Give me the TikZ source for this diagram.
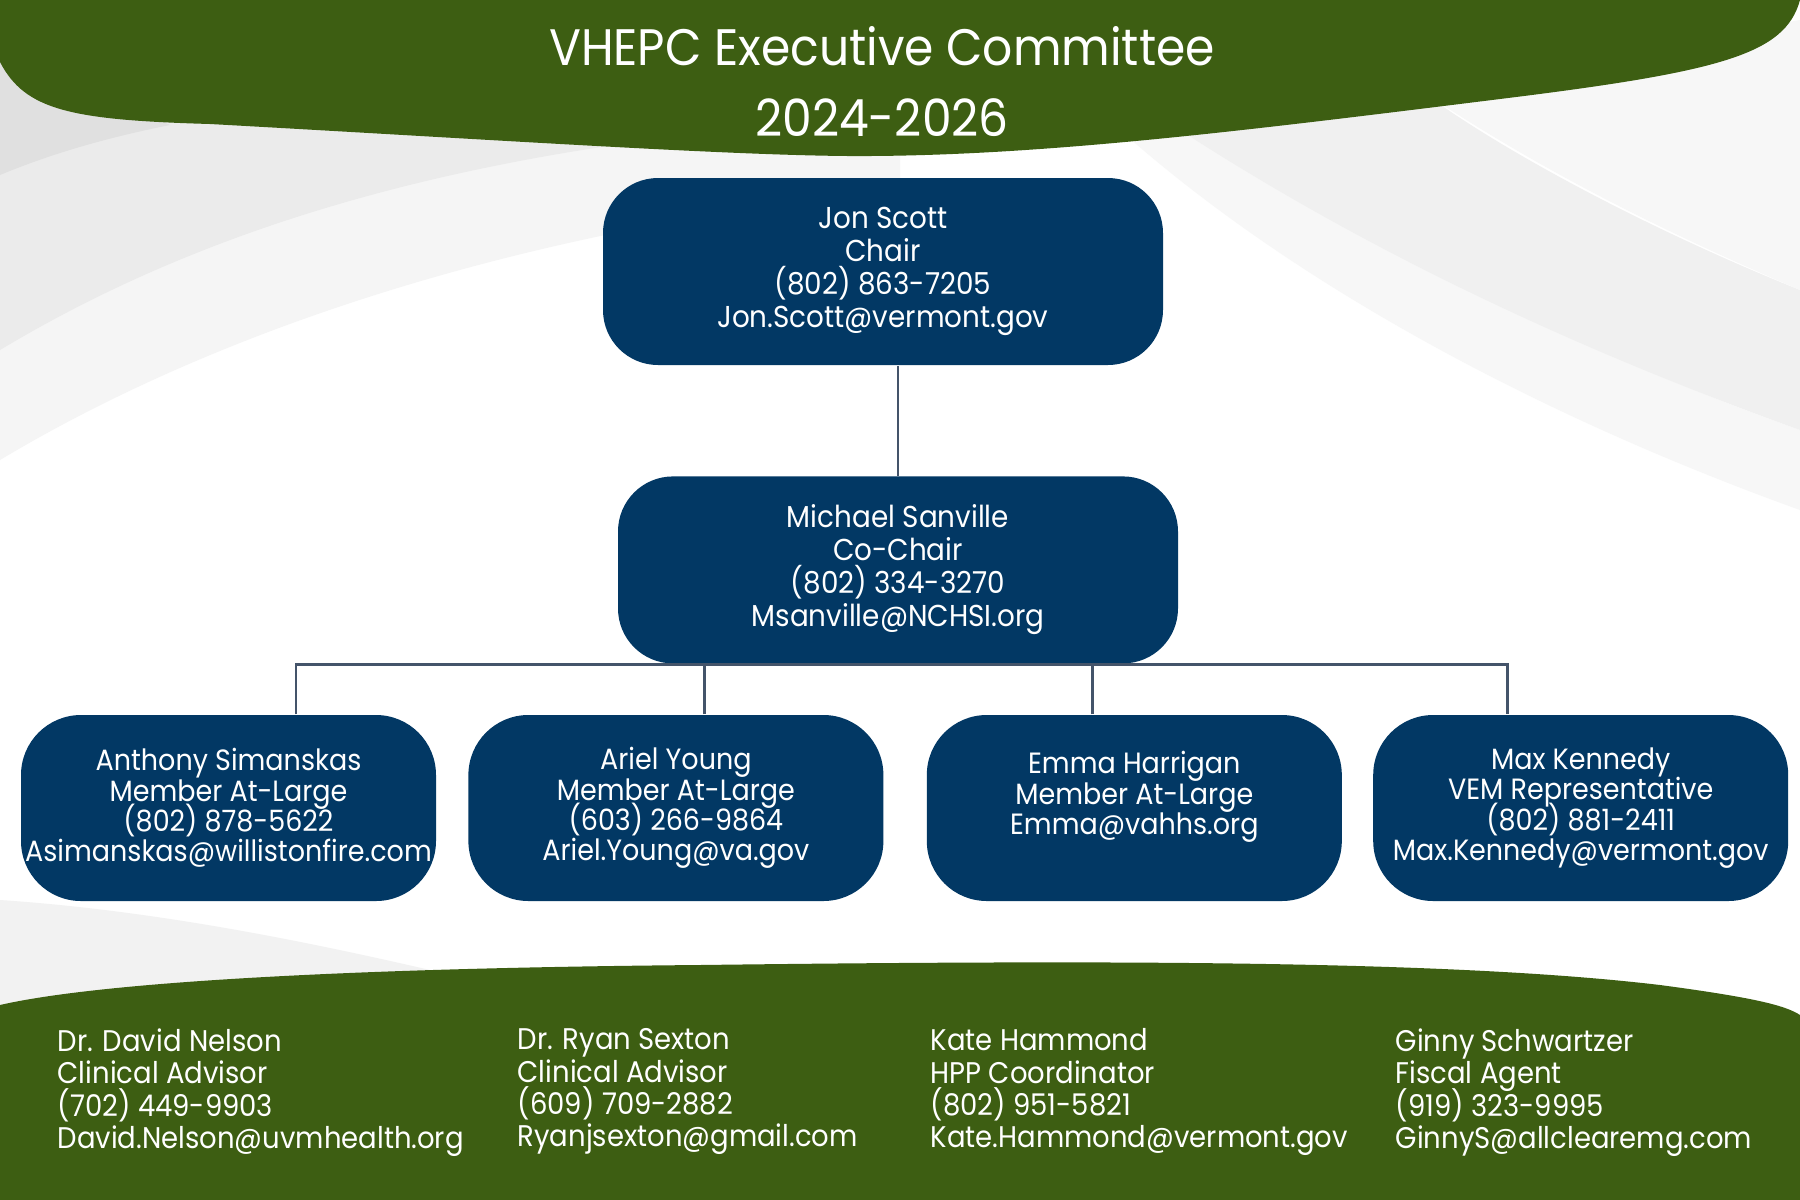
\documentclass[tikz,border=0pt]{standalone}
\usepackage{xcolor}
\usepackage{fontspec}
\setmainfont{Poppins}[FakeStretch=0.92]
\usepackage{tikz}
\usetikzlibrary{positioning}

\definecolor{vhgreen}{RGB}{61,94,18}
\definecolor{vhnavy}{RGB}{2,56,100}
\definecolor{vhline}{RGB}{68,84,106}
\setlength{\lineskiplimit}{-20pt}

\begin{document}
\begin{tikzpicture}[
  font=\fontsize{8.6}{9.4}\selectfont,
  card/.style={fill=vhnavy, text=white, rounded corners=5.5mm,
    minimum width=5.6cm, minimum height=1.87cm, align=center, inner sep=0pt},
  member/.style={card, rounded corners=6mm, minimum width=4.15cm,
    minimum height=1.86cm, font=\fontsize{8.35}{8.6}\selectfont},
  link/.style={draw=vhline, line width=0.8pt},
  contact/.style={text=white, align=left, anchor=north west, inner sep=0pt,
    font=\fontsize{8.5}{9.2}\selectfont},
  swoosh/.style={fill=black!#1},
]
  \useasboundingbox (0,0) rectangle (18,-12);
  \fill[white] (0,0) rectangle (18,-12);

  % soft grey background swooshes
  \fill[swoosh=4] (0,-0.5) -- (0,-4.6) .. controls (2,-3.4) and (5,-2.3) .. (9,-1.9) -- (9,-1.2) -- cycle;
  \fill[swoosh=8] (0,-0.5) -- (0,-3.5) .. controls (1.5,-2.6) and (3.5,-1.8) .. (6.5,-1.4) -- cycle;
  \fill[swoosh=12] (0,-0.5) -- (0,-1.75) .. controls (0.6,-1.5) and (1.2,-1.35) .. (1.7,-1.25) -- cycle;
  \fill[swoosh=3] (11.2,-1.3) .. controls (13,-2.9) and (15.5,-4.2) .. (18,-5.1)
    -- (18,-4.3) .. controls (16,-3.6) and (14,-2.6) .. (12.4,-1.3) -- cycle;
  \fill[swoosh=6] (11.8,-1.3) .. controls (13.5,-2.4) and (15.5,-3.4) .. (18,-4.3)
    -- (18,-2.9) .. controls (16.5,-2.3) and (15,-1.5) .. (14.2,-0.9) -- cycle;
  \fill[swoosh=3] (14.2,-0.9) .. controls (15.4,-1.7) and (16.6,-2.3) .. (18,-2.9)
    -- (18,-0.2) -- cycle;
  \fill[swoosh=5] (0,-9.0) .. controls (1.5,-9.1) and (3,-9.4) .. (4.3,-9.7) -- (0,-10.1) -- cycle;

  % banners
  \fill[vhgreen] (0,0) -- (0,-0.62) .. controls (0.25,-1.1) and (0.7,-1.2) .. (2.1,-1.24)
    .. controls (5,-1.4) and (7.5,-1.57) .. (8.7,-1.56)
    .. controls (10.5,-1.55) and (12.5,-1.3) .. (14.92,-1.0)
    .. controls (17.2,-0.72) and (17.85,-0.55) .. (18,0) -- cycle;
  \fill[vhgreen] (0,-12) -- (0,-10.05) .. controls (1,-9.82) and (3.5,-9.68) .. (7,-9.65)
    .. controls (11,-9.6) and (14.5,-9.6) .. (16.6,-9.85)
    .. controls (17.5,-9.97) and (17.85,-10.05) .. (18,-10.15) -- (18,-12) -- cycle;

  \node[text=white, align=center, font=\fontsize{14.6}{20.2}\selectfont] (title) at (8.82,-0.82)
    {VHEPC Executive Committee\\2024-2026};

  % committee
  \node[card] (chair) at (8.83,-2.715) {Jon Scott\\Chair\\(802) 863-7205\\Jon.Scott@vermont.gov};
  \node[card, below=1.1cm of chair, xshift=1.5mm] (cochair)
    {Michael Sanville\\Co-Chair\\(802) 334-3270\\Msanville@NCHSI.org};

  \node[member] (m1) at (2.285,-8.08)
    {Anthony Simanskas\\Member At-Large\\(802) 878-5622\\Asimanskas@willistonfire.com};
  \node[member, right=3.1mm of m1] (m2)
    {Ariel Young\\Member At-Large\\(603) 266-9864\\Ariel.Young@va.gov};
  \node[member, right=4.2mm of m2] (m3)
    {Emma Harrigan\\Member At-Large\\Emma@vahhs.org\\\mbox{}};
  \node[member, right=3mm of m3] (m4)
    {Max Kennedy\\VEM Representative\\(802) 881-2411\\Max.Kennedy@vermont.gov};

  \coordinate (d1) at ([xshift=6.75mm]m1.north);
  \coordinate (d2) at ([xshift=2.85mm]m2.north);
  \coordinate (d3) at ([xshift=-4.15mm]m3.north);
  \coordinate (d4) at ([xshift=-7.3mm]m4.north);

  \draw[link] (cochair.north) -- (cochair.north |- chair.south);
  \draw[link] (d1) |- (d4 |- cochair.south) -- (d4);
  \draw[link] (d2) -- (d2 |- cochair.south);
  \draw[link] (d3) -- (d3 |- cochair.south);

  % advisors
  \node[contact] (adv1) at (0.57,-10.28)
    {Dr. David Nelson\\Clinical Advisor\\(702) 449-9903\\David.Nelson@uvmhealth.org};
  \node[contact] (adv2) at (5.17,-10.28)
    {Dr. Ryan Sexton\\Clinical Advisor\\(609) 709-2882\\Ryanjsexton@gmail.com};
  \node[contact] (hpp) at (9.3,-10.28)
    {Kate Hammond\\HPP Coordinator\\(802) 951-5821\\Kate.Hammond@vermont.gov};
  \node[contact] (fiscal) at (13.95,-10.28)
    {Ginny Schwartzer\\Fiscal Agent\\(919) 323-9995\\GinnyS@allclearemg.com};
\end{tikzpicture}
\end{document}
